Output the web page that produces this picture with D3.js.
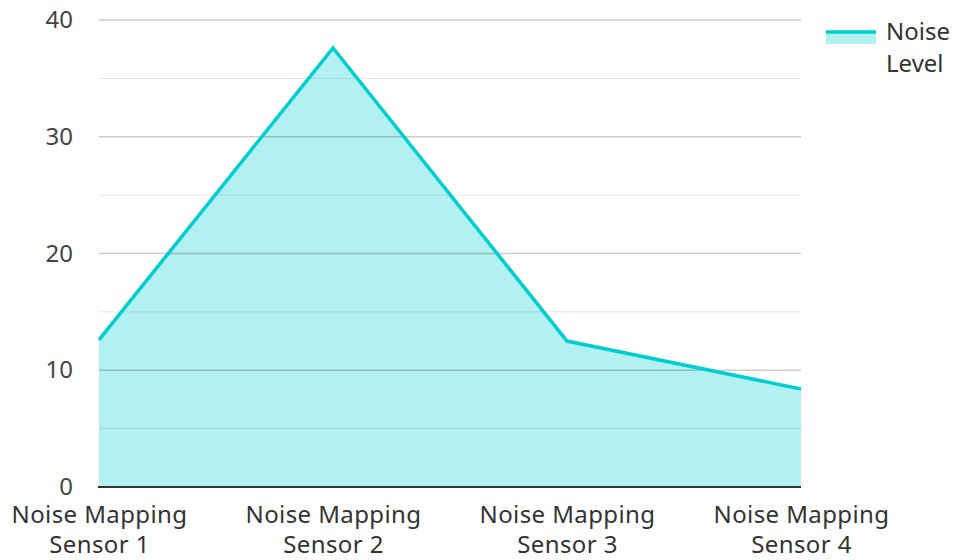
<!DOCTYPE html>
<html>
<head>
<meta charset="utf-8">
<script src="https://cdn.jsdelivr.net/npm/d3@7"></script>
<style>
  html, body { margin: 0; padding: 0; background: #fff; }
  svg { display: block; font-family: "Noto Sans", "Open Sans", sans-serif; }
</style>
</head>
<body>
<svg id="chart" width="953" height="560"></svg>
<script>
const categories = ["Noise Mapping Sensor 1", "Noise Mapping Sensor 2", "Noise Mapping Sensor 3", "Noise Mapping Sensor 4"];
const noiseLevel = [12.6, 37.6, 12.5, 8.4];
const seriesName = "Noise Level";
const yTicks = [0, 10, 20, 30, 40];
const yMinorTicks = [5, 15, 25, 35];

const lineColor = "#00CED1";
const W = 953, H = 560;
const margin = { left: 99, right: 152, top: 20, bottom: 73 };
const fontSize = 24;

const svg = d3.select("#chart");
const x = d3.scalePoint().domain(categories).range([margin.left, W - margin.right]).padding(0);
const y = d3.scaleLinear().domain([0, 40]).range([H - margin.bottom, margin.top]);

const data = categories.map((c, i) => ({ c, v: noiseLevel[i] }));

// area under the series
svg.append("path")
  .datum(data)
  .attr("fill", lineColor)
  .attr("fill-opacity", 0.3)
  .attr("d", d3.area().x(d => x(d.c)).y0(y(0)).y1(d => y(d.v)));

// grid lines
const grid = svg.append("g");
grid.selectAll("line.minor").data(yMinorTicks).join("line")
  .attr("x1", margin.left).attr("x2", W - margin.right)
  .attr("y1", d => y(d)).attr("y2", d => y(d))
  .attr("stroke", "#000").attr("stroke-opacity", 0.1).attr("stroke-width", 1);
grid.selectAll("line.major").data(yTicks.filter(t => t > 0)).join("line")
  .attr("x1", margin.left).attr("x2", W - margin.right)
  .attr("y1", d => y(d)).attr("y2", d => y(d))
  .attr("stroke", "#000").attr("stroke-opacity", 0.2).attr("stroke-width", 1.5);

// series line
svg.append("path")
  .datum(data)
  .attr("fill", "none")
  .attr("stroke", lineColor)
  .attr("stroke-width", 3.5)
  .attr("stroke-linejoin", "miter")
  .attr("d", d3.line().x(d => x(d.c)).y(d => y(d.v)));

// baseline
svg.append("line")
  .attr("x1", margin.left - 1).attr("x2", W - margin.right)
  .attr("y1", y(0)).attr("y2", y(0))
  .attr("stroke", "#333").attr("stroke-width", 2);

// y axis labels
const yAxis = d3.axisLeft(y).tickValues(yTicks).tickSize(0).tickPadding(26);
const gy = svg.append("g").attr("transform", `translate(${margin.left},0)`).call(yAxis);
gy.select(".domain").remove();
gy.selectAll("text").attr("font-size", fontSize).attr("fill", "#444")
  .attr("font-family", "'Noto Sans', sans-serif");

// x axis labels (two lines)
const xAxis = d3.axisBottom(x).tickSize(0).tickFormat("");
const gx = svg.append("g").attr("transform", `translate(0,${y(0)})`).call(xAxis);
gx.select(".domain").remove();
gx.selectAll(".tick").each(function(d) {
  const parts = d.split(" ");
  const l1 = parts.slice(0, 2).join(" ");
  const l2 = parts.slice(2).join(" ");
  const t = d3.select(this).append("text")
    .attr("text-anchor", "middle")
    .attr("font-size", fontSize)
    .attr("letter-spacing", 0.4)
    .attr("fill", "#333")
    .attr("font-family", "'Noto Sans', sans-serif");
  t.append("tspan").attr("x", 0).attr("y", 36).text(l1);
  t.append("tspan").attr("x", 0).attr("y", 66).text(l2);
});

// legend
const lg = svg.append("g").attr("transform", "translate(826,0)");
lg.append("rect").attr("x", 0).attr("y", 32).attr("width", 50).attr("height", 12)
  .attr("fill", lineColor).attr("fill-opacity", 0.3);
lg.append("line").attr("x1", 0).attr("x2", 50).attr("y1", 32).attr("y2", 32)
  .attr("stroke", lineColor).attr("stroke-width", 3.5);
const lt = lg.append("text").attr("font-size", fontSize).attr("fill", "#333")
  .attr("font-family", "'Noto Sans', sans-serif");
lt.append("tspan").attr("x", 60).attr("y", 40).text("Noise");
lt.append("tspan").attr("x", 60).attr("y", 72).text("Level");
</script>
</body>
</html>
